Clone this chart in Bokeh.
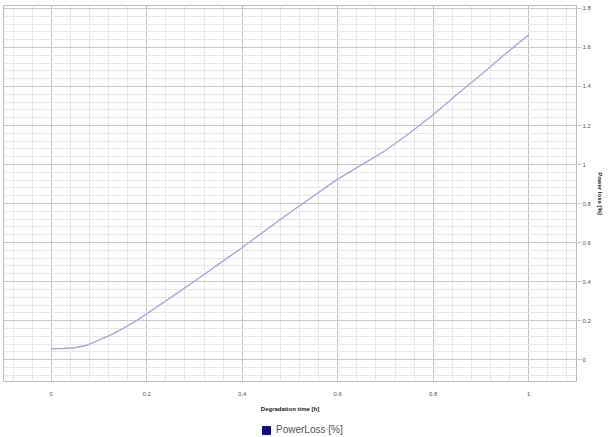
from bokeh.plotting import figure
from bokeh.layouts import column
from bokeh.models import (Range1d, SingleIntervalTicker, NumeralTickFormatter,
                          Legend, LegendItem)
from bokeh.embed import file_html
from bokeh.resources import INLINE

# data
degradation_time = [0, 0.025, 0.05, 0.075, 0.1, 0.125, 0.15, 0.175, 0.2, 0.25, 0.3,
                    0.35, 0.4, 0.45, 0.5, 0.55, 0.6, 0.65, 0.7, 0.75, 0.8, 0.85,
                    0.9, 0.95, 1.0]
power_loss = [0.056, 0.057, 0.061, 0.074, 0.1, 0.127, 0.159, 0.195, 0.235, 0.318, 0.402,
              0.488, 0.575, 0.665, 0.754, 0.84, 0.925, 0.998, 1.072, 1.16, 1.255, 1.36,
              1.46, 1.565, 1.665]
x_label = "Degradation time [h]"
y_label = "Power loss [%]"
series_name = "PowerLoss [%]"

p = figure(width=608, height=414, output_backend="svg", toolbar_location=None,
           x_range=Range1d(-0.1, 1.1), y_range=Range1d(-0.112, 1.815),
           y_axis_location="right",
           min_border_left=3, min_border_top=5, min_border_right=32, min_border_bottom=31)
p.background_fill_color = "white"
p.border_fill_color = "white"
p.outline_line_color = "#bdbdbd"
p.outline_line_width = 1

for ax in (p.xaxis[0], p.yaxis[0]):
    ax.ticker = SingleIntervalTicker(interval=0.2, num_minor_ticks=5)
    ax.formatter = NumeralTickFormatter(format="0.[0]")
    ax.axis_line_color = None
    ax.minor_tick_line_color = None
    ax.major_label_text_font = "Liberation Sans"
    ax.major_label_text_font_size = "6px"
    ax.major_label_text_color = "#555555"
    ax.axis_label_text_font = "Liberation Sans"
    ax.axis_label_text_font_size = "6px"
    ax.axis_label_text_font_style = "bold"
    ax.axis_label_text_color = "#222222"

p.xaxis.axis_label = x_label
p.xaxis.major_tick_line_color = None
p.xaxis.major_tick_out = 0
p.xaxis.major_label_standoff = 6
p.xaxis.axis_label_standoff = 7

p.yaxis.axis_label = y_label
p.yaxis.major_tick_line_color = "#c8c8c8"
p.yaxis.major_tick_out = 5
p.yaxis.major_tick_in = 0
p.yaxis.major_label_standoff = 1
p.yaxis.axis_label_standoff = 3

for g in (p.xgrid[0], p.ygrid[0]):
    g.grid_line_color = "#c8c8c8"
    g.grid_line_width = 1
    g.minor_grid_line_color = "#e8e8e8"
    g.minor_grid_line_width = 1

p.line(degradation_time, power_loss, line_color="#a6a6e6", line_width=1.4)

# legend strip below the chart (its proxy series lies outside the strip's ranges,
# so only the legend swatch is drawn)
lf = figure(width=608, height=23, output_backend="svg", toolbar_location=None,
            x_range=Range1d(5, 6), y_range=Range1d(5, 6),
            min_border_left=0, min_border_top=0, min_border_right=0, min_border_bottom=0)
lf.axis.visible = False
lf.grid.visible = False
lf.outline_line_color = None
proxy = lf.quad(left=degradation_time, right=degradation_time,
                top=power_loss, bottom=power_loss,
                fill_color="#0b0b8f", line_color="#0b0b8f")
legend = Legend(items=[LegendItem(label=series_name, renderers=[proxy])],
                orientation="horizontal", location=(258, 2),
                border_line_color=None, background_fill_alpha=0,
                label_text_font="Liberation Sans", label_text_font_size="10px",
                label_text_color="#555555", glyph_width=10, glyph_height=10,
                padding=2, margin=0, label_standoff=5)
lf.add_layout(legend, "center")

layout = column(p, lf, spacing=0)
open("out.html", "w").write(file_html(layout, INLINE))
